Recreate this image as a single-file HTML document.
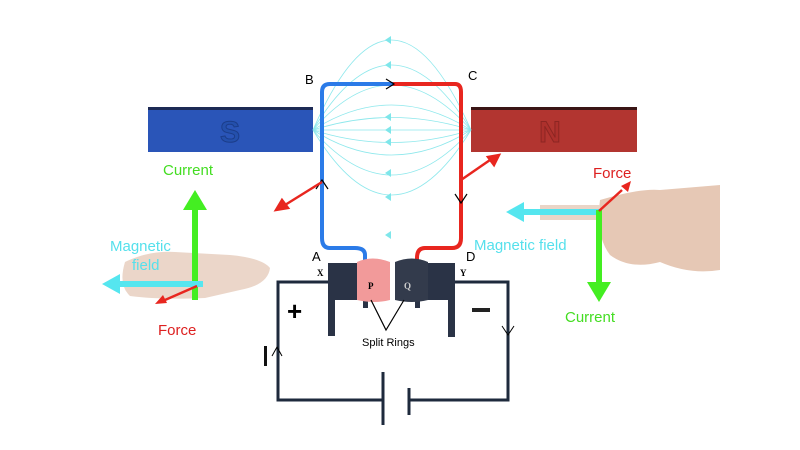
<!DOCTYPE html><html><head><style>body{margin:0;background:#fff}svg{display:block}</style></head><body>
<svg width="800" height="450" viewBox="0 0 800 450" xmlns="http://www.w3.org/2000/svg" font-family="Liberation Sans, sans-serif">
<!-- hands -->
<path d="M125,262 Q150,250 175,252 L230,255 Q262,258 270,268 Q268,285 240,290 L205,298 Q160,300 130,296 Q118,285 125,262z" fill="#e8cfc0" opacity="0.85"/>
<path d="M600,200 Q640,188 660,190 L720,185 L720,270 Q690,275 660,262 Q630,270 610,255 Q595,235 600,200z" fill="#e6c8b5"/>
<path d="M540,205 L600,205 L600,220 L540,220z" fill="#ead5c7"/>
<!-- magnets -->
<rect x="148" y="107" width="165" height="4" fill="#1d2a55"/>
<rect x="148" y="110" width="165" height="42" fill="#2a55b8"/>
<text x="230" y="142" font-size="30" font-weight="bold" text-anchor="middle" fill="#2450ac" stroke="#1b3d8a" stroke-width="1">S</text>
<rect x="471" y="107" width="166" height="4" fill="#3a1515"/>
<rect x="471" y="110" width="166" height="42" fill="#b23530"/>
<text x="550" y="142" font-size="30" font-weight="bold" text-anchor="middle" fill="#ad302c" stroke="#8c2522" stroke-width="1">N</text>
<!-- field lines -->
<g fill="none" stroke="#8ee8ec" stroke-width="0.8">
<path d="M313,130 Q391,-50 471,130"/><path d="M313,130 Q391,0 471,130"/><path d="M313,130 Q391,40 471,130"/><path d="M313,130 Q391,80 471,130"/><path d="M313,130 Q391,105 471,130"/><path d="M313,130 L471,130"/><path d="M313,130 Q391,155 471,130"/><path d="M313,130 Q391,180 471,130"/><path d="M313,130 Q391,220 471,130"/><path d="M313,130 Q391,260 471,130"/>
</g>
<g fill="#7fe6ea"><path d="M385,40l6,-4v8z"/><path d="M385,65l6,-4v8z"/><path d="M385,117l6,-4v8z"/><path d="M385,130l6,-4v8z"/><path d="M385,142l6,-4v8z"/><path d="M385,173l6,-4v8z"/><path d="M385,197l6,-4v8z"/><path d="M385,235l6,-4v8z"/></g>
<!-- circuit -->
<g fill="none" stroke="#1e2a3c" stroke-width="3"><path d="M330,282 H278 V400 H382"/><path d="M455,282 H508 V400 H410"/><path d="M383,372V425M409,388V415" stroke-width="3"/></g>
<path d="M272,356l5,-9l5,9M502,326l6,9l6,-9" fill="none" stroke="#000" stroke-width="1"/>
<rect x="264" y="346" width="3" height="20" fill="#111"/>
<!-- brushes -->
<path d="M328,263h42v37h-35v36h-7z" fill="#2a3346"/>
<rect x="363" y="300" width="5" height="8" fill="#2a3346"/>
<path d="M417,263h38v74h-7v-37h-31z" fill="#2a3346"/>
<rect x="415" y="300" width="5" height="8" fill="#2a3346"/>
<!-- loop -->
<path d="M365,268 L365,255 Q365,248 355,248 L330,248 Q322,248 322,238 L322,92 Q322,84 330,84 L393,84" fill="none" stroke="#2b7be8" stroke-width="4"/>
<path d="M393,84 L455,84 Q461,84 461,92 L461,238 Q461,248 452,248 L425,248 Q417,248 417,258 L417,268" fill="none" stroke="#e8261f" stroke-width="4"/>
<path d="M386,79l8,5l-8,5M316,189l6,-9l6,9M455,194l6,9l6,-9" fill="none" stroke="#000" stroke-width="1.2"/>
<text x="305" y="84" font-size="13">B</text><text x="468" y="80" font-size="13">C</text>
<text x="312" y="261" font-size="13">A</text><text x="466" y="261" font-size="13">D</text>
<!-- rings -->
<path d="M357,262 Q372,255 390,262 V300 Q375,304 357,300z" fill="#f29a9a"/>
<path d="M395,262 Q412,255 428,262 V300 Q412,304 395,300z" fill="#333b4c"/>
<text x="368" y="289" font-size="9" font-weight="bold" font-family="Liberation Serif">P</text>
<text x="404" y="289" font-size="9" font-weight="bold" font-family="Liberation Serif" fill="#ccc">Q</text>
<text x="317" y="276" font-size="9" font-weight="bold" font-family="Liberation Serif">X</text>
<text x="460" y="276" font-size="9" font-weight="bold" font-family="Liberation Serif">Y</text>
<!-- force arrows on loop -->
<g stroke="#e8261f" stroke-width="2.5" fill="#e8261f"><line x1="322" y1="182" x2="285" y2="205"/><path d="M276,210l6,-10l6,8z"/><line x1="461" y1="180" x2="490" y2="160"/><path d="M499,155l-5,10l-6,-8z"/></g>
<path d="M371,300 L386,330 L404,300" fill="none" stroke="#000" stroke-width="1.2"/>
<text x="362" y="346" font-size="11">Split Rings</text>
<text x="287" y="320" font-size="26" font-weight="bold">+</text>
<rect x="472" y="308" width="18" height="4" fill="#222"/>
<!-- left hand arrows -->
<g><rect x="192" y="208" width="6" height="92" fill="#44ee22"/><path d="M183,210l12,-20l12,20z" fill="#44ee22"/>
<rect x="118" y="281" width="85" height="6" fill="#55e6ef"/><path d="M120,274l-18,10l18,10z" fill="#55e6ef"/>
<line x1="197" y1="286" x2="165" y2="300" stroke="#e8261f" stroke-width="2.5"/><path d="M155,304l8,-9l4,8z" fill="#e8261f"/></g>
<text x="163" y="175" font-size="15" fill="#44dd22">Current</text>
<text x="110" y="251" font-size="15" fill="#55e0ec">Magnetic</text>
<text x="132" y="270" font-size="15" fill="#55e0ec">field</text>
<text x="158" y="335" font-size="15" fill="#dd2020">Force</text>
<!-- right hand arrows -->
<g><rect x="522" y="209" width="78" height="6" fill="#55e6ef"/><path d="M524,202l-18,10l18,10z" fill="#55e6ef"/>
<rect x="596" y="210" width="6" height="74" fill="#44ee22"/><path d="M587,282l12,20l12,-20z" fill="#44ee22"/>
<line x1="599" y1="211" x2="622" y2="190" stroke="#e8261f" stroke-width="2.5"/><path d="M631,181l-3,11l-7,-6z" fill="#e8261f"/></g>
<text x="593" y="178" font-size="15" fill="#dd2020">Force</text>
<text x="474" y="250" font-size="15" fill="#55e0ec">Magnetic field</text>
<text x="565" y="322" font-size="15" fill="#44dd22">Current</text>
</svg></body></html>
